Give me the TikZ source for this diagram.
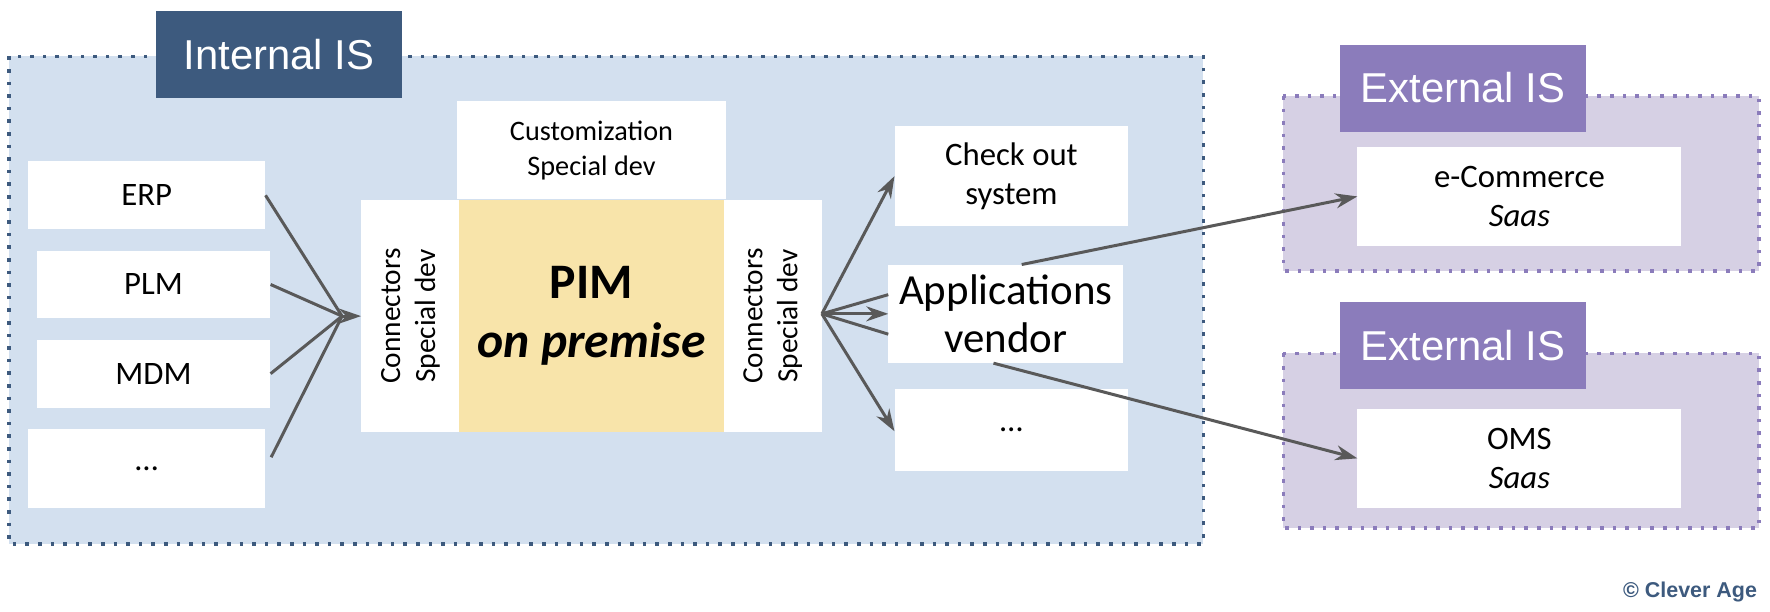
\documentclass[tikz,border=0pt]{standalone}
\usepackage{fontspec}
\setmainfont{Carlito}
\newfontfamily\headfont{Liberation Sans}
\usetikzlibrary{arrows.meta}
\definecolor{intfill}{HTML}{D3E0EF}
\definecolor{intdark}{HTML}{3D5A7E}
\definecolor{extfill}{HTML}{D6D0E4}
\definecolor{extdark}{HTML}{8B7CBB}
\definecolor{pimfill}{HTML}{F8E4AA}
\definecolor{arrowgray}{HTML}{595959}
\tikzset{
  box/.style={fill=white, inner sep=0pt, align=center, font=\fontsize{29}{35}\selectfont},
  area/.style={line width=3.6pt, dash pattern=on 3.6pt off 9pt},
  tab/.style={inner sep=0pt, text=white, font=\headfont\fontsize{37}{40}\selectfont},
  link/.style={draw=arrowgray, line width=3pt},
  tip/.style={link, -{Stealth[length=22pt,width=15pt]}}
}
\begin{document}
\begin{tikzpicture}[x=1pt,y=-1pt,scale=1.1288,every node/.style={transform shape}]
  \useasboundingbox (0,0) rectangle (1568,542);
  % areas
  \fill[intfill] (8,50) rectangle (1066,482);
  \draw[area, intdark] (8,50) rectangle (1066,482);
  \fill[extfill] (1137,85) rectangle (1558,240);
  \draw[area, extdark] (1137,85) rectangle (1558,240);
  \fill[extfill] (1137,313) rectangle (1558,468);
  \draw[area, extdark] (1137,313) rectangle (1558,468);
  \node[tab, fill=intdark, minimum width=218pt, minimum height=77pt] (intis) at (247,48) {Internal IS};
  \node[tab, fill=extdark, minimum width=218pt, minimum height=77pt] (extis1) at (1296,78) {External IS};
  \node[tab, fill=extdark, minimum width=218pt, minimum height=77pt] (extis2) at (1296,306) {External IS};
  % sources
  \node[box, minimum width=210pt, minimum height=60pt] (erp) at (130,173) {ERP};
  \node[box, minimum width=207pt, minimum height=60pt] (plm) at (136,252) {PLM};
  \node[box, minimum width=207pt, minimum height=60pt] (mdm) at (136,331) {MDM};
  \node[box, minimum width=210pt, minimum height=70pt] (srcmore) at (130,415) {\dots};
  % PIM
  \node[box, font=\fontsize{25}{31}\selectfont, minimum width=238pt, minimum height=87pt] (custom) at (524,133) {Customization\\Special dev};
  \node[box, fill=pimfill, font=\bfseries\fontsize{44}{52}\selectfont, minimum width=234pt, minimum height=205pt] (pim) at (524,280) {PIM\\\itshape on premise};
  \node[box, minimum width=87pt, minimum height=205pt] (connin) at (363.5,280) {};
  \node[rotate=90, align=center, font=\fontsize{26}{31}\selectfont] (connintext) at (connin) {Connectors\\Special dev};
  \node[box, minimum width=87pt, minimum height=205pt] (connout) at (684.5,280) {};
  \node[rotate=90, align=center, font=\fontsize{26}{31}\selectfont] (connouttext) at (connout) {Connectors\\Special dev};
  % targets
  \node[box, minimum width=207pt, minimum height=88pt] (checkout) at (896,156) {Check out\\system};
  \node[box, font=\fontsize{38}{42}\selectfont, minimum width=208pt, minimum height=87pt] (apps) at (891,278) {Applications\\vendor};
  \node[box, minimum width=207pt, minimum height=72pt] (tgtmore) at (896,381) {\dots};
  \node[box, minimum width=287pt, minimum height=88pt] (ecom) at (1346,174) {e-Commerce\\\itshape Saas};
  \node[box, minimum width=287pt, minimum height=88pt] (oms) at (1346,406) {OMS\\\itshape Saas};
  \node[anchor=east, text=intdark, font=\headfont\bfseries\fontsize{19}{20}\selectfont] (credit) at (1560,524) {\textcopyright\ Clever Age};
  % connectors
  \coordinate (merge) at (303,280);
  \coordinate (split) at (728,278);
  \draw[link] (erp.east) -- (merge);
  \draw[link] (plm.east) -- (merge);
  \draw[link] (mdm.east) -- (merge);
  \draw[link] ([xshift=5pt,yshift=10pt]srcmore.east) -- (merge);
  \draw[tip] (merge) -- (connin.west);
  \draw[tip] (split) -- (checkout.west);
  \draw[link] (split) -- ([yshift=-18pt]apps.west);
  \draw[tip] (split) -- (apps.west);
  \draw[link] (split) -- ([yshift=17pt]apps.west);
  \draw[tip] (split) -- ([yshift=-1pt]tgtmore.west);
  \draw[tip] ([xshift=14pt]apps.north) -- (ecom.west);
  \draw[tip] ([xshift=-11pt]apps.south) -- (oms.west);
\end{tikzpicture}
\end{document}
